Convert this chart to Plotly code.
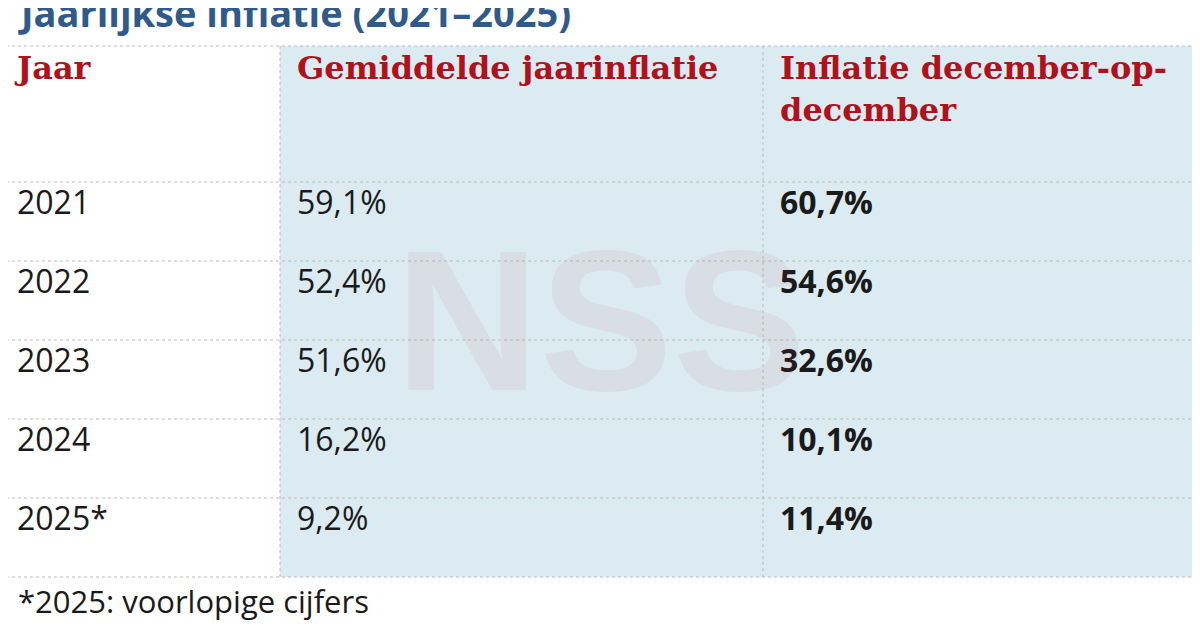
import plotly.graph_objects as go

title = "Jaarlijkse inflatie (2021–2025)"
headers = ["Jaar", "Gemiddelde jaarinflatie", "Inflatie december-op-<br>december"]
years = ["2021", "2022", "2023", "2024", "2025*"]
avg_infl = ["59,1%", "52,4%", "51,6%", "16,2%", "9,2%"]
dec_infl = ["60,7%", "54,6%", "32,6%", "10,1%", "11,4%"]
footnote = "*2025: voorlopige cijfers"

W, H = 1200, 630
OFF = 8  # browser page margin compensation
xs = [0, 280, 763, 1193]
top, header_h, row_h = 46, 136, 79
ys = [top, top + header_h] + [top + header_h + row_h * (i + 1) for i in range(len(years))]
blue = "#DCEBF2"

fig = go.Figure()
columns = [years, avg_infl, [f"<b>{v}</b>" for v in dec_infl]]
for c, col in enumerate(columns):
    fig.add_trace(go.Scatter(
        x=[xs[c] + 17] * len(col), y=[ys[1 + i] + 24 for i in range(len(col))],
        mode="text", text=col, textposition="middle right", hoverinfo="skip",
        textfont=dict(family="Open Sans", size=32, color="#1a1a1a"), showlegend=False))
fig.add_trace(go.Scatter(
    x=[xs[c] + 17 for c in range(3)], y=[top + 9] * 3, mode="text",
    text=[f"<b>{h}</b>" for h in headers], textposition="bottom right", hoverinfo="skip",
    textfont=dict(family="DejaVu Serif", size=32, color="#B0121B"), showlegend=False))

shapes = [dict(type="rect", x0=xs[1], x1=xs[3], y0=ys[0], y1=ys[-1], fillcolor=blue,
               line_width=0, layer="below")]
dash = dict(color="#BBBBBB", width=1, dash="dot")
for y in ys:
    shapes.append(dict(type="line", x0=0, x1=xs[-1], y0=y, y1=y, line=dash, layer="below"))
for x in xs:
    shapes.append(dict(type="line", x0=x, x1=x, y0=ys[0], y1=ys[-1], line=dash, layer="below"))

fig.update_layout(
    width=W, height=H, margin=dict(l=0, r=0, t=0, b=0),
    paper_bgcolor="white", plot_bgcolor="white", shapes=shapes,
    xaxis=dict(range=[OFF, W + OFF], visible=False, fixedrange=True),
    yaxis=dict(range=[H + OFF, OFF], visible=False, fixedrange=True),
    annotations=[
        dict(text=f"<b>{title}</b>", x=16, y=12, xanchor="left", yanchor="middle",
             showarrow=False, font=dict(family="Open Sans", size=38, color="#2F5A8A")),
        dict(text=footnote, x=16, y=601, xanchor="left", yanchor="middle",
             showarrow=False, font=dict(family="Open Sans", size=31, color="#1a1a1a")),
        dict(text="<b>NSS</b>", x=600, y=320, showarrow=False, opacity=0.07,
             font=dict(family="Liberation Sans", size=200, color="#C0304A")),
    ],
)
fig.write_html("out.html")
